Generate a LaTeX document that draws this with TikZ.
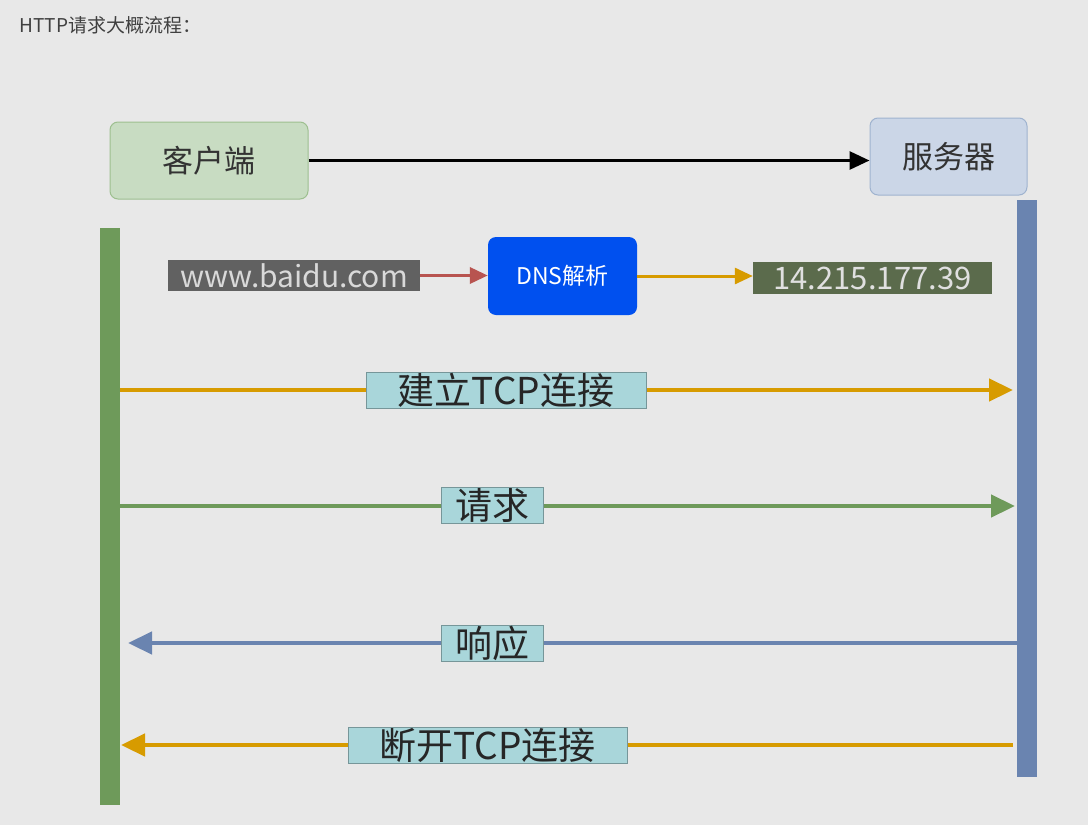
\documentclass[tikz,border=0pt]{standalone}
\usepackage{fontspec}
\setmainfont{Noto Sans CJK SC}
\usetikzlibrary{arrows.meta}
\definecolor{bg}{HTML}{E8E8E8}
\definecolor{cgreen}{HTML}{C8DCC2}
\definecolor{cgreenb}{HTML}{9DBF8F}
\definecolor{sblue}{HTML}{CBD6E7}
\definecolor{sblueb}{HTML}{9FB3CF}
\definecolor{gbar}{HTML}{6E9A5A}
\definecolor{bbar}{HTML}{6A84B0}
\definecolor{ora}{HTML}{D79B00}
\definecolor{redA}{HTML}{B85450}
\definecolor{dns}{HTML}{0050EF}
\definecolor{lbl}{HTML}{A9D6DA}
\definecolor{ipc}{HTML}{5B6B4C}
\tikzset{
  fz/.style={font=\fontsize{#1}{#1}\selectfont},
  lab/.style={fill=lbl, draw=lbl!70!black, line width=0.6pt, inner sep=0pt, minimum height=36pt, fz=37, text=black!85},
  ar/.style={line width=4.5pt, -{Triangle[length=24pt,width=22pt]}},
}
\begin{document}
\begin{tikzpicture}[x=1pt,y=-1pt]
\fill[bg] (0,0) rectangle (1088,825);
\useasboundingbox (0,0) rectangle (1088,825);
\node[anchor=west, fz=19, text=black!75] (title) at (16,25) {HTTP请求大概流程：};
\node[draw=cgreenb, fill=cgreen, rounded corners=8pt, line width=1pt, minimum width=198pt, minimum height=77pt, fz=31, text=black!80] (client) at (209,160.5) {客户端};
\node[draw=sblueb, fill=sblue, rounded corners=8pt, line width=1pt, minimum width=157pt, minimum height=77pt, fz=31, text=black!80] (server) at (948.5,156.5) {服务器};
\draw[line width=3pt, -{Triangle[length=20pt,width=18pt]}] (client.east) -- (server.west |- client.east);
\fill[gbar] (100,228) rectangle (120,805);
\fill[bbar] (1017,200) rectangle (1037,777);
\node[fill=black!62, minimum width=252pt, minimum height=31pt, inner sep=0pt, fz=30, text=white!85!black] (www) at (294,275.5) {www.baidu.com};
\node[fill=dns, rounded corners=8pt, minimum width=149pt, minimum height=78pt, fz=23, text=white] (dns) at (562.5,276) {DNS解析};
\node[fill=ipc, minimum width=239pt, minimum height=32pt, inner sep=0pt, fz=31, text=white!88!black] (ip) at (872.5,278) {14.215.177.39};
\draw[redA, ar, line width=3.5pt, -{Triangle[length=18pt,width=16pt]}] (www.east) -- (dns.west |- www.east);
\draw[ora, line width=3pt, -{Triangle[length=18pt,width=16pt]}] (dns.east |- 0,276) -- (ip.west |- 0,276);
\coordinate (a1) at (120,390); \coordinate (b1) at (1013,390);
\draw[ora, ar] (a1) -- (b1);
\node[lab, minimum width=280pt] (t1) at (506,390) {建立TCP连接};
\coordinate (a2) at (120,506); \coordinate (b2) at (1015,506);
\draw[gbar, ar] (a2) -- (b2);
\node[lab, minimum width=102pt] (t2) at (492,505) {请求};
\coordinate (a3) at (1017,643); \coordinate (b3) at (128,643);
\draw[bbar, ar] (a3) -- (b3);
\node[lab, minimum width=102pt] (t3) at (492,643) {响应};
\coordinate (a4) at (1013,745); \coordinate (b4) at (121,745);
\draw[ora, ar] (a4) -- (b4);
\node[lab, minimum width=279pt] (t4) at (487.5,745) {断开TCP连接};
\end{tikzpicture}
\end{document}
